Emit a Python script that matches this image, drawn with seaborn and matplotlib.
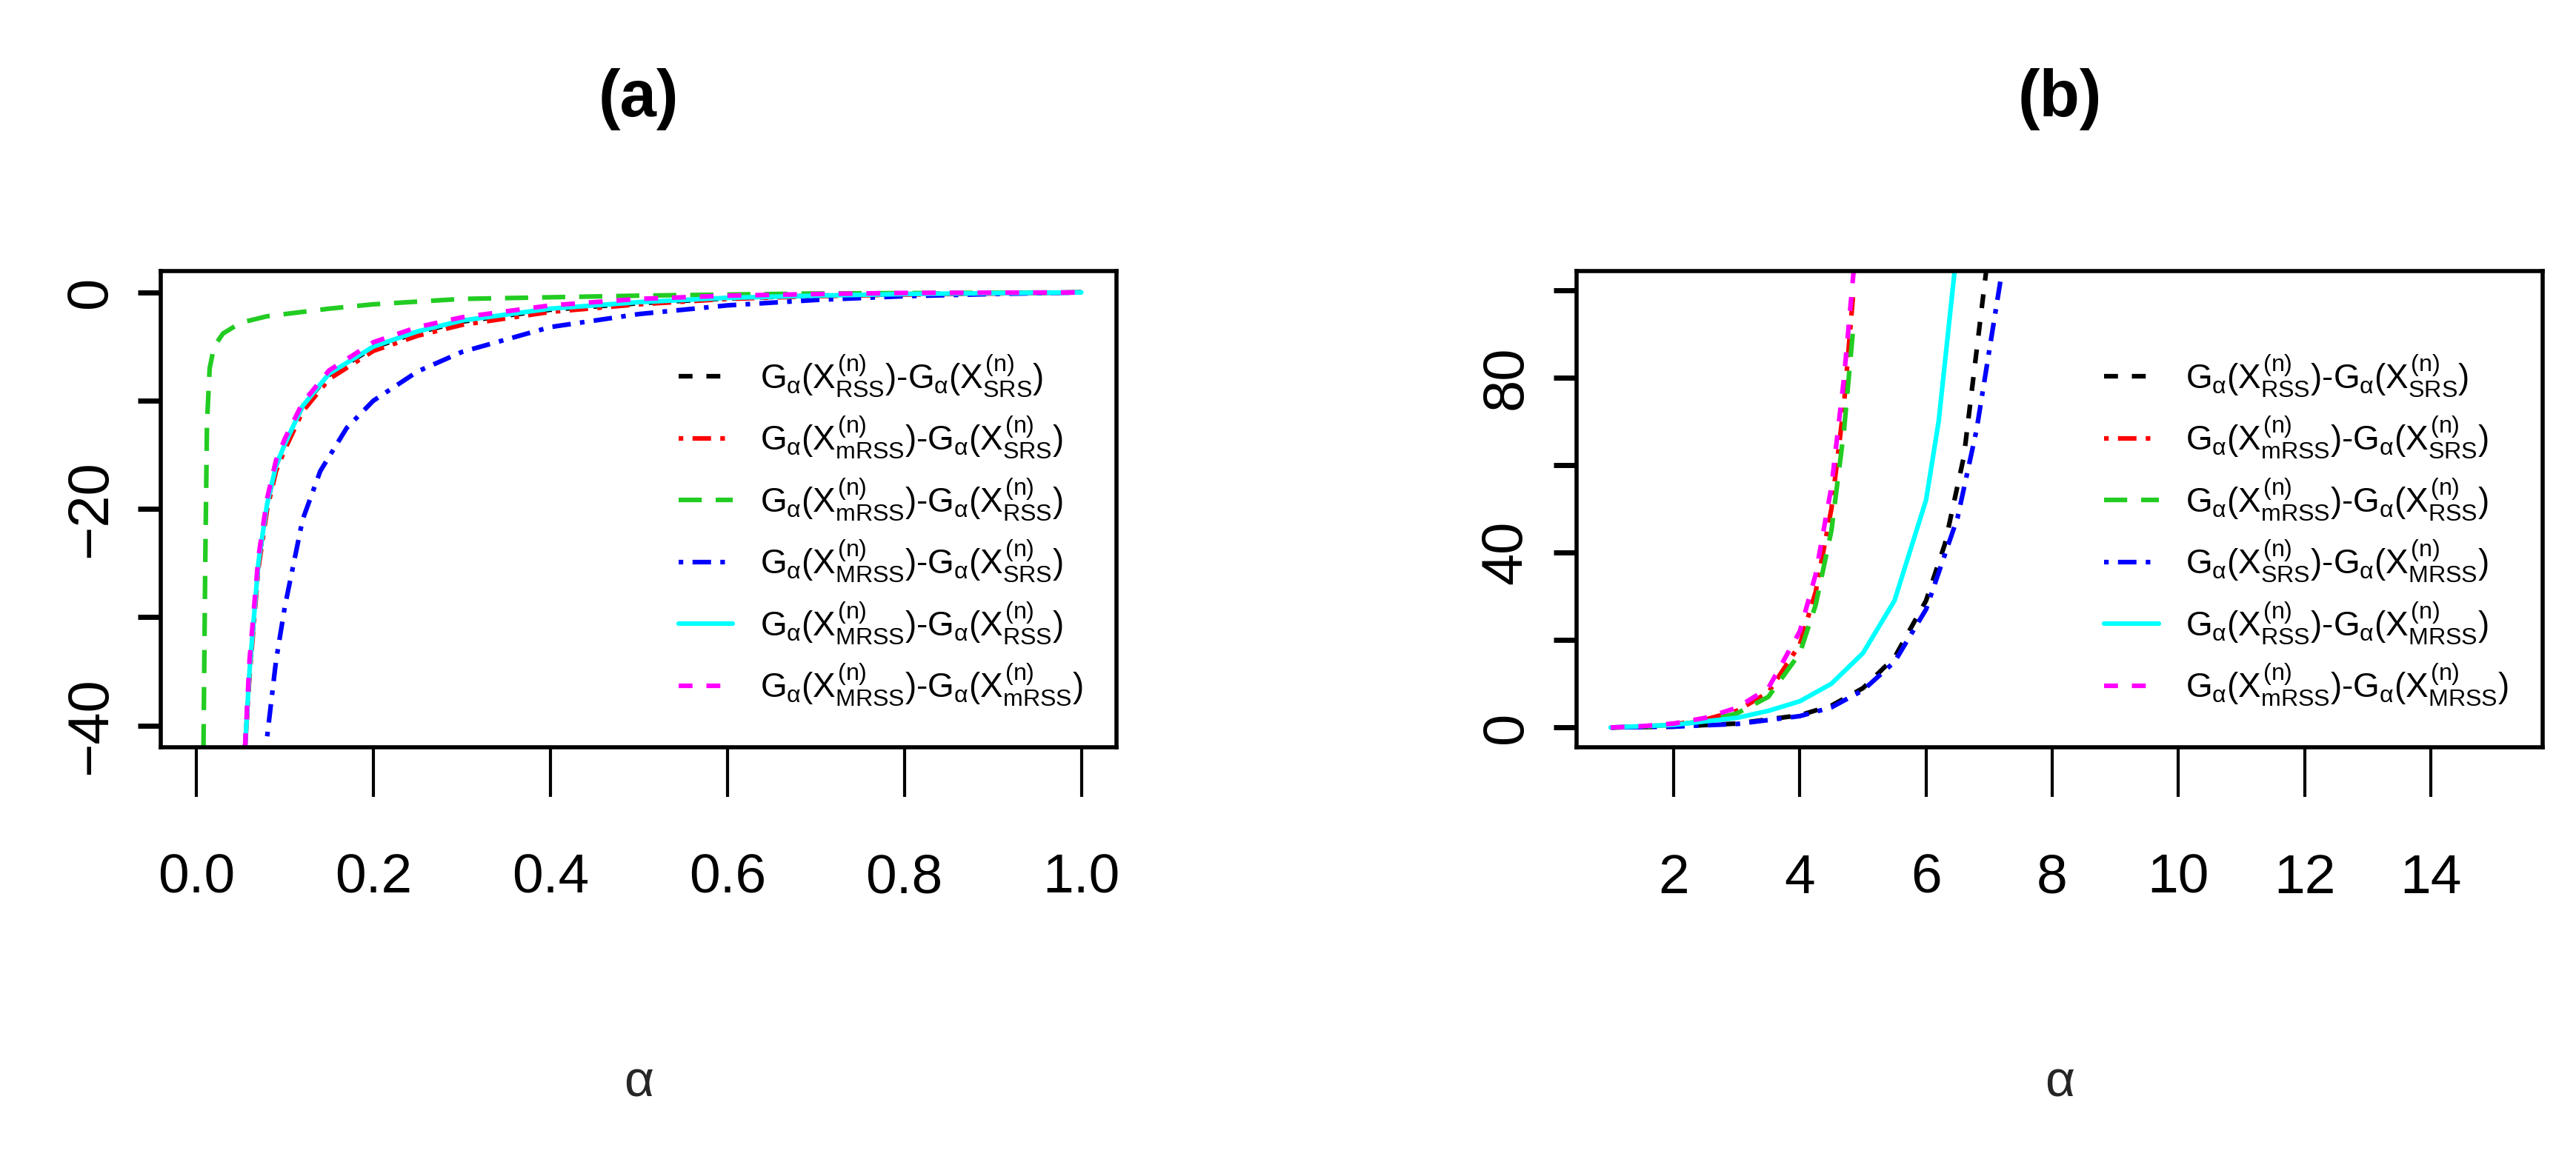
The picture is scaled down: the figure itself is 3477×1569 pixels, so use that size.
import matplotlib
matplotlib.use("Agg")
import matplotlib.pyplot as plt
import numpy as np
import pandas as pd
import seaborn as sns

# panel (a): alpha in (0, 1]
a_green_x = [0.008, 0.010, 0.012, 0.015, 0.02, 0.03, 0.05, 0.08, 0.1, 0.15, 0.2, 0.3, 0.5, 0.7, 1.0]
a_green_y = [-42, -25, -12, -7, -5, -3.8, -2.8, -2.2, -2.0, -1.5, -1.1, -0.6, -0.3, -0.1, 0]
a_mid_x = [0.055, 0.06, 0.07, 0.08, 0.09, 0.1, 0.12, 0.15, 0.2, 0.25, 0.3, 0.4, 0.5, 0.6, 0.7, 0.8, 1.0]
a_cyan_y = [-42, -35, -25, -19.5, -16, -14, -10.5, -7.5, -5, -3.6, -2.6, -1.5, -0.9, -0.5, -0.3, -0.15, 0]
a_magenta_y = [-42, -34, -24.5, -19, -15.5, -13.5, -10.2, -7.2, -4.6, -3.2, -2.3, -1.2, -0.6, -0.3, -0.15, -0.05, 0]
a_red_y = [-42, -35.5, -25.5, -20, -16.5, -14.5, -11, -8, -5.4, -4, -3, -1.8, -1.1, -0.6, -0.35, -0.2, 0]
a_black_y = [-42, -35, -25, -19.5, -16, -14, -10.5, -7.6, -5.1, -3.7, -2.7, -1.6, -1.0, -0.55, -0.3, -0.15, 0]
a_blue_x = [0.08, 0.09, 0.1, 0.12, 0.14, 0.17, 0.2, 0.25, 0.3, 0.4, 0.5, 0.6, 0.7, 0.8, 0.9, 1.0]
a_blue_y = [-41, -34, -29, -21, -16.5, -12.5, -10, -7.3, -5.5, -3.2, -2.0, -1.2, -0.7, -0.35, -0.15, 0]

# panel (b): alpha from 1
b_fast_x = [1, 1.5, 2, 2.5, 3, 3.5, 4, 4.25, 4.5, 4.7, 4.85]
b_magenta_y = [0, 0.3, 0.9, 2.2, 4.5, 9, 22, 35, 55, 80, 104]
b_red_y = [0, 0.2, 0.7, 1.8, 3.8, 8, 19, 31, 50, 74, 100]
b_green_y = [0, 0.2, 0.6, 1.5, 3.2, 7, 17, 28, 45, 68, 92]
b_cyan_x = [1, 2, 3, 3.5, 4, 4.5, 5, 5.5, 6, 6.2, 6.45]
b_cyan_y = [0, 0.6, 2.2, 3.8, 6, 10, 17, 29, 52, 70, 104]
b_black_x = [1, 2, 3, 4, 4.5, 5, 5.5, 6, 6.3, 6.6, 6.95]
b_black_y = [0, 0.2, 0.9, 2.8, 5, 9, 16, 29, 42, 62, 104]
b_blue_x = [1, 2, 3, 4, 4.5, 5, 5.5, 6, 6.5, 6.8, 7.2]
b_blue_y = [0, 0.2, 0.8, 2.6, 4.6, 8.5, 15, 27, 48, 68, 104]


def G(a, b):
    return r"$G_\alpha(X^{(n)}_{\mathrm{%s}})$-$G_\alpha(X^{(n)}_{\mathrm{%s}})$" % (a, b)


sns.set_style("white")
plt.rcParams["font.family"] = ["Liberation Sans", "DejaVu Sans"]
plt.rcParams["mathtext.fontset"] = "custom"
plt.rcParams["mathtext.rm"] = "Liberation Sans"
plt.rcParams["mathtext.it"] = "Liberation Sans"
plt.rcParams["text.color"] = "black"
plt.rcParams["xtick.color"] = "black"
plt.rcParams["ytick.color"] = "black"

fig = plt.figure(figsize=(34.77, 15.69), dpi=100)
ax1 = fig.add_axes([0.0625, 0.357, 0.371, 0.41])
ax2 = fig.add_axes([0.612, 0.357, 0.375, 0.41])

styles = {
    "k": dict(color="black", ls=(0, (3, 3))),
    "r": dict(color="red", ls=(0, (1, 2, 4, 2))),
    "g": dict(color="#22cc22", ls=(0, (5, 3))),
    "b": dict(color="blue", ls=(0, (1, 2, 4, 2))),
    "c": dict(color="cyan", ls="-"),
    "m": dict(color="magenta", ls=(0, (3, 3))),
}


def draw(ax, x, y, key, label):
    df = pd.DataFrame({"x": x, "y": y})
    sns.lineplot(data=df, x="x", y="y", ax=ax, label=label, lw=4.5,
                 color=styles[key]["color"], linestyle=styles[key]["ls"])


draw(ax1, a_mid_x, a_black_y, "k", G("RSS", "SRS"))
draw(ax1, a_mid_x, a_red_y, "r", G("mRSS", "SRS"))
draw(ax1, a_green_x, a_green_y, "g", G("mRSS", "RSS"))
draw(ax1, a_blue_x, a_blue_y, "b", G("MRSS", "SRS"))
draw(ax1, a_mid_x, a_cyan_y, "c", G("MRSS", "RSS"))
draw(ax1, a_mid_x, a_magenta_y, "m", G("MRSS", "mRSS"))

draw(ax2, b_black_x, b_black_y, "k", G("RSS", "SRS"))
draw(ax2, b_fast_x, b_red_y, "r", G("mRSS", "SRS"))
draw(ax2, b_fast_x, b_green_y, "g", G("mRSS", "RSS"))
draw(ax2, b_blue_x, b_blue_y, "b", G("SRS", "MRSS"))
draw(ax2, b_cyan_x, b_cyan_y, "c", G("RSS", "MRSS"))
draw(ax2, b_fast_x, b_magenta_y, "m", G("mRSS", "MRSS"))

ax1.set_xlim(-0.04, 1.04)
ax1.set_ylim(-42, 2)
ax1.set_xticks([0.0, 0.2, 0.4, 0.6, 0.8, 1.0])
ax1.set_xticklabels(["0.0", "0.2", "0.4", "0.6", "0.8", "1.0"])
ax1.set_yticks([0, -10, -20, -30, -40])
ax1.set_yticklabels(["0", "", "\u221220", "", "\u221240"])

ax2.set_xlim(0.46, 15.77)
ax2.set_ylim(-4.5, 104.4)
ax2.set_xticks([2, 4, 6, 8, 10, 12, 14])
ax2.set_yticks([0, 20, 40, 60, 80, 100])
ax2.set_yticklabels(["0", "", "40", "", "80", ""])

for ax, t in [(ax1, "(a)"), (ax2, "(b)")]:
    ax.set_title(t, fontsize=64, fontweight="bold", pad=150)
    ax.set_xlabel(r"$\alpha$", fontsize=50, labelpad=150)
    ax.set_ylabel("")
    for s in ax.spines.values():
        s.set_linewidth(4)
        s.set_color("black")
    ax.tick_params(axis="x", direction="out", length=48, width=3,
                   labelsize=54, pad=55, bottom=True)
    ax.tick_params(axis="y", direction="out", length=22, width=5,
                   labelsize=56, pad=20, left=True)
    for lab in ax.get_yticklabels():
        lab.set_rotation(90)
        lab.set_va("center")
    ax.legend(loc="upper right", frameon=False, fontsize=33, handlelength=1.6,
              labelspacing=0.45, borderaxespad=0.6, bbox_to_anchor=(1.0, 0.9))

fig.savefig("out.png", dpi=100, facecolor="white")
